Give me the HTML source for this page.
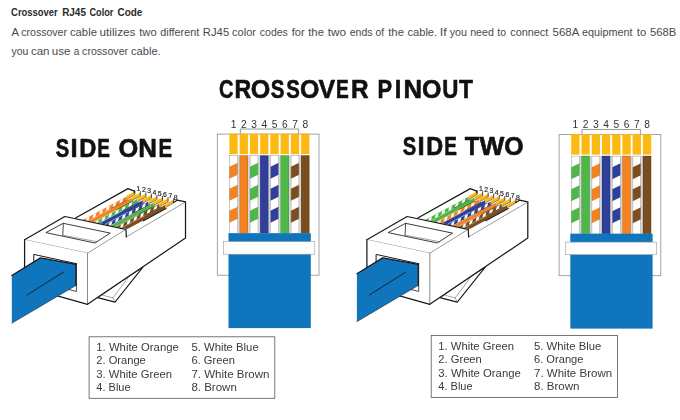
<!DOCTYPE html>
<html lang="en">
<head>
<meta charset="utf-8">
<title>Crossover RJ45 Color Code</title>
<style>
html,body{margin:0;padding:0;background:#fff;}
body{width:680px;height:420px;position:relative;overflow:hidden;font-family:"Liberation Sans",sans-serif;}
svg{display:block}
</style>
</head>
<body>
<svg width="680" height="70" viewBox="0 0 680 70" style="position:absolute;left:0;top:0" font-family="'Liberation Sans', sans-serif">
<text y="15.8" font-size="11.8" font-weight="bold" fill="#2a2a2a"><tspan x="11.08" textLength="46.61" lengthAdjust="spacingAndGlyphs">Crossover</tspan> <tspan x="62.15" textLength="23.77" lengthAdjust="spacingAndGlyphs">RJ45</tspan> <tspan x="89.41" textLength="23.97" lengthAdjust="spacingAndGlyphs">Color</tspan> <tspan x="117.5" textLength="24.84" lengthAdjust="spacingAndGlyphs">Code</tspan></text>
<text y="35.8" font-size="11.2" font-weight="normal" fill="#4a4a4a"><tspan x="11.57" textLength="6.91" lengthAdjust="spacingAndGlyphs">A</tspan> <tspan x="21.29" textLength="45.71" lengthAdjust="spacingAndGlyphs">crossover</tspan> <tspan x="69.96" textLength="26.95" lengthAdjust="spacingAndGlyphs">cable</tspan> <tspan x="99.52" textLength="35.93" lengthAdjust="spacingAndGlyphs">utilizes</tspan> <tspan x="139.16" textLength="17.5" lengthAdjust="spacingAndGlyphs">two</tspan> <tspan x="160.31" textLength="38.88" lengthAdjust="spacingAndGlyphs">different</tspan> <tspan x="202.87" textLength="26.29" lengthAdjust="spacingAndGlyphs">RJ45</tspan> <tspan x="232.01" textLength="24.04" lengthAdjust="spacingAndGlyphs">color</tspan> <tspan x="259.84" textLength="27.95" lengthAdjust="spacingAndGlyphs">codes</tspan> <tspan x="291.64" textLength="13.03" lengthAdjust="spacingAndGlyphs">for</tspan> <tspan x="308.21" textLength="15.79" lengthAdjust="spacingAndGlyphs">the</tspan> <tspan x="327.68" textLength="18.31" lengthAdjust="spacingAndGlyphs">two</tspan> <tspan x="349.76" textLength="22.87" lengthAdjust="spacingAndGlyphs">ends</tspan> <tspan x="375.61" textLength="8.61" lengthAdjust="spacingAndGlyphs">of</tspan> <tspan x="388.21" textLength="15.79" lengthAdjust="spacingAndGlyphs">the</tspan> <tspan x="407.47" textLength="29.66" lengthAdjust="spacingAndGlyphs">cable.</tspan> <tspan x="439.78" textLength="6.99" lengthAdjust="spacingAndGlyphs">If</tspan> <tspan x="449.74" textLength="17.25" lengthAdjust="spacingAndGlyphs">you</tspan> <tspan x="470.13" textLength="23.7" lengthAdjust="spacingAndGlyphs">need</tspan> <tspan x="497.32" textLength="8.79" lengthAdjust="spacingAndGlyphs">to</tspan> <tspan x="510.25" textLength="38.07" lengthAdjust="spacingAndGlyphs">connect</tspan> <tspan x="552.55" textLength="26.19" lengthAdjust="spacingAndGlyphs">568A</tspan> <tspan x="582.02" textLength="50.56" lengthAdjust="spacingAndGlyphs">equipment</tspan> <tspan x="636.78" textLength="9.38" lengthAdjust="spacingAndGlyphs">to</tspan> <tspan x="650" textLength="26.31" lengthAdjust="spacingAndGlyphs">568B</tspan></text>
<text y="54.9" font-size="11.2" font-weight="normal" fill="#4a4a4a"><tspan x="11.46" textLength="16.93" lengthAdjust="spacingAndGlyphs">you</tspan> <tspan x="30.91" textLength="18.62" lengthAdjust="spacingAndGlyphs">can</tspan> <tspan x="51.88" textLength="18.48" lengthAdjust="spacingAndGlyphs">use</tspan> <tspan x="73.71" textLength="5.53" lengthAdjust="spacingAndGlyphs">a</tspan> <tspan x="82.09" textLength="45.99" lengthAdjust="spacingAndGlyphs">crossover</tspan> <tspan x="130.98" textLength="29.74" lengthAdjust="spacingAndGlyphs">cable.</tspan></text>
</svg>
<svg width="680" height="350" viewBox="0 70 680 350" style="position:absolute;left:0;top:70px;will-change:transform" font-family="'Liberation Sans', sans-serif">
<text y="98.1" font-size="25.4" font-weight="bold" fill="#111" stroke="#111" stroke-width="0.6" stroke-linejoin="round"><tspan x="219.1" textLength="14.48" lengthAdjust="spacingAndGlyphs">C</tspan><tspan x="234.43" textLength="16.71" lengthAdjust="spacingAndGlyphs">R</tspan><tspan x="250.7" textLength="19.47" lengthAdjust="spacingAndGlyphs">O</tspan><tspan x="270.79" textLength="13.72" lengthAdjust="spacingAndGlyphs">S</tspan><tspan x="286.13" textLength="13.59" lengthAdjust="spacingAndGlyphs">S</tspan><tspan x="300.05" textLength="19.32" lengthAdjust="spacingAndGlyphs">O</tspan><tspan x="318.48" textLength="16.68" lengthAdjust="spacingAndGlyphs">V</tspan><tspan x="335.89" textLength="12.8" lengthAdjust="spacingAndGlyphs">E</tspan><tspan x="351.02" textLength="17.59" lengthAdjust="spacingAndGlyphs">R</tspan> <tspan x="377.48" textLength="14.57" lengthAdjust="spacingAndGlyphs">P</tspan><tspan x="394.84" textLength="6.56" lengthAdjust="spacingAndGlyphs">I</tspan><tspan x="403.4" textLength="18.56" lengthAdjust="spacingAndGlyphs">N</tspan><tspan x="422.02" textLength="19.41" lengthAdjust="spacingAndGlyphs">O</tspan><tspan x="442.17" textLength="16.15" lengthAdjust="spacingAndGlyphs">U</tspan><tspan x="459.07" textLength="13.94" lengthAdjust="spacingAndGlyphs">T</tspan></text>
<text y="156.6" font-size="25.4" font-weight="bold" fill="#111" stroke="#111" stroke-width="0.6" stroke-linejoin="round"><tspan x="55.63" textLength="13.46" lengthAdjust="spacingAndGlyphs">S</tspan><tspan x="70.54" textLength="7.14" lengthAdjust="spacingAndGlyphs">I</tspan><tspan x="79.37" textLength="17.12" lengthAdjust="spacingAndGlyphs">D</tspan><tspan x="97.29" textLength="12.65" lengthAdjust="spacingAndGlyphs">E</tspan> <tspan x="118.39" textLength="19.71" lengthAdjust="spacingAndGlyphs">O</tspan><tspan x="138.32" textLength="18.7" lengthAdjust="spacingAndGlyphs">N</tspan><tspan x="158.41" textLength="13.61" lengthAdjust="spacingAndGlyphs">E</tspan></text>
<text y="154.7" font-size="25.4" font-weight="bold" fill="#111" stroke="#111" stroke-width="0.6" stroke-linejoin="round"><tspan x="402.63" textLength="13.46" lengthAdjust="spacingAndGlyphs">S</tspan><tspan x="417.54" textLength="7.14" lengthAdjust="spacingAndGlyphs">I</tspan><tspan x="426.37" textLength="16.91" lengthAdjust="spacingAndGlyphs">D</tspan><tspan x="444.29" textLength="12.65" lengthAdjust="spacingAndGlyphs">E</tspan> <tspan x="464.67" textLength="14.39" lengthAdjust="spacingAndGlyphs">T</tspan><tspan x="479.43" textLength="24.83" lengthAdjust="spacingAndGlyphs">W</tspan><tspan x="504.15" textLength="19.3" lengthAdjust="spacingAndGlyphs">O</tspan></text>
<g transform="translate(0 0)" stroke-linejoin="round" stroke-linecap="round">
<polygon points="97.6,297.6 115,302.1 142.9,267.1 120,282" fill="#fff" stroke="#1a1a1a" stroke-width="1.1"/>
<polyline points="102.9,295.3 112.9,297.9 127.9,277.9" fill="none" stroke="#4a4a4a" stroke-width="0.5"/>
<line x1="112.9" y1="297.9" x2="115" y2="302.1" stroke="#4a4a4a" stroke-width="0.5"/>
<polygon points="87.5,253.2 126,229.3 126.3,236.9 185.5,202 185.5,238 87.5,304.3" fill="#fff" stroke="none"/>
<polyline points="185.5,202 185.5,238 87.5,304.3" fill="none" stroke="#1a1a1a" stroke-width="1.25"/>
<polygon points="75.5,218 128,188.6 134.4,191.2 176.7,199.6 185.5,202 126.3,236.7 126,228.8 70,217.5" fill="#fff" stroke="none"/>
<polygon points="126.2,196.64 126.2,200.49 87.99,220.93 82.77,219.88" fill="#F58220"/>
<polygon points="123.15,198.62 122.15,202.31 119.25,203.86 120.25,200.17" fill="#fff"/>
<polygon points="116.45,202.21 115.45,205.89 112.55,207.44 113.55,203.76" fill="#fff"/>
<polygon points="109.75,205.79 108.75,209.48 105.85,211.03 106.85,207.34" fill="#fff"/>
<polygon points="103.05,209.38 102.05,213.06 99.15,214.61 100.15,210.93" fill="#fff"/>
<polygon points="96.35,212.96 95.35,216.65 92.45,218.2 93.45,214.51" fill="#fff"/>
<polygon points="89.65,216.54 88.65,220.23 85.75,221.78 86.75,218.1" fill="#fff"/>
<polygon points="134.5,191.5 134.5,194.8 126.2,199.24 126.2,195.94" fill="#FDB913"/>
<line x1="111.2" y1="208.62" x2="127.7" y2="199.79" stroke="#1c1c1c" stroke-width="0.7" stroke-linecap="butt"/>
<line x1="134.8" y1="190.1" x2="134.8" y2="194.8" stroke="#1a1a1a" stroke-width="0.8" stroke-linecap="butt"/>
<line x1="126.2" y1="199.44" x2="134.5" y2="195" stroke="#1c1c1c" stroke-width="0.5" stroke-linecap="butt"/>
<polygon points="131.74,197.83 131.74,201.68 93.63,222.07 88.4,221.01" fill="#F58220"/>
<polygon points="140.04,192.69 140.04,195.99 131.74,200.43 131.74,197.13" fill="#FDB913"/>
<line x1="116.74" y1="209.8" x2="133.24" y2="200.97" stroke="#1c1c1c" stroke-width="0.7" stroke-linecap="butt"/>
<line x1="140.34" y1="191.29" x2="140.34" y2="195.99" stroke="#1a1a1a" stroke-width="0.8" stroke-linecap="butt"/>
<line x1="131.74" y1="200.63" x2="140.04" y2="196.19" stroke="#1c1c1c" stroke-width="0.5" stroke-linecap="butt"/>
<polygon points="137.28,199.01 137.28,202.86 99.26,223.2 94.03,222.15" fill="#4DB848"/>
<polygon points="132.23,202.06 131.23,205.75 128.33,207.3 129.33,203.62" fill="#fff"/>
<polygon points="125.53,205.65 124.53,209.33 121.63,210.89 122.63,207.2" fill="#fff"/>
<polygon points="118.83,209.23 117.83,212.92 114.93,214.47 115.93,210.78" fill="#fff"/>
<polygon points="112.13,212.82 111.13,216.5 108.23,218.05 109.23,214.37" fill="#fff"/>
<polygon points="105.43,216.4 104.43,220.09 101.53,221.64 102.53,217.95" fill="#fff"/>
<polygon points="98.73,219.99 97.73,223.67 94.83,225.22 95.83,221.54" fill="#fff"/>
<polygon points="145.58,193.87 145.58,197.17 137.28,201.61 137.28,198.31" fill="#FDB913"/>
<line x1="122.28" y1="210.99" x2="138.78" y2="202.16" stroke="#1c1c1c" stroke-width="0.7" stroke-linecap="butt"/>
<line x1="145.88" y1="192.47" x2="145.88" y2="197.17" stroke="#1a1a1a" stroke-width="0.8" stroke-linecap="butt"/>
<line x1="137.28" y1="201.81" x2="145.58" y2="197.37" stroke="#1c1c1c" stroke-width="0.5" stroke-linecap="butt"/>
<polygon points="142.82,200.2 142.82,204.05 104.89,224.34 99.67,223.29" fill="#2E409A"/>
<polygon points="151.12,195.06 151.12,198.36 142.82,202.8 142.82,199.5" fill="#FDB913"/>
<line x1="127.82" y1="212.17" x2="144.32" y2="203.35" stroke="#1c1c1c" stroke-width="0.7" stroke-linecap="butt"/>
<line x1="151.42" y1="193.66" x2="151.42" y2="198.36" stroke="#1a1a1a" stroke-width="0.8" stroke-linecap="butt"/>
<line x1="142.82" y1="203" x2="151.12" y2="198.56" stroke="#1c1c1c" stroke-width="0.5" stroke-linecap="butt"/>
<polygon points="148.36,201.38 148.36,205.23 110.52,225.48 105.3,224.42" fill="#2E409A"/>
<polygon points="145.91,203.05 144.91,206.73 141.81,208.39 142.81,204.7" fill="#fff"/>
<polygon points="139.21,206.63 138.21,210.32 135.11,211.97 136.11,208.29" fill="#fff"/>
<polygon points="132.51,210.21 131.51,213.9 128.41,215.56 129.41,211.87" fill="#fff"/>
<polygon points="125.81,213.8 124.81,217.48 121.71,219.14 122.71,215.46" fill="#fff"/>
<polygon points="119.11,217.38 118.11,221.07 115.01,222.73 116.01,219.04" fill="#fff"/>
<polygon points="112.41,220.97 111.41,224.65 108.31,226.31 109.31,222.63" fill="#fff"/>
<polygon points="156.66,196.24 156.66,199.54 148.36,203.98 148.36,200.68" fill="#FDB913"/>
<line x1="133.36" y1="213.36" x2="149.86" y2="204.53" stroke="#1c1c1c" stroke-width="0.7" stroke-linecap="butt"/>
<line x1="156.96" y1="194.84" x2="156.96" y2="199.54" stroke="#1a1a1a" stroke-width="0.8" stroke-linecap="butt"/>
<line x1="148.36" y1="204.18" x2="156.66" y2="199.74" stroke="#1c1c1c" stroke-width="0.5" stroke-linecap="butt"/>
<polygon points="153.9,202.57 153.9,206.42 116.16,226.61 110.93,225.56" fill="#4DB848"/>
<polygon points="162.2,197.43 162.2,200.73 153.9,205.17 153.9,201.87" fill="#FDB913"/>
<line x1="138.9" y1="214.55" x2="155.4" y2="205.72" stroke="#1c1c1c" stroke-width="0.7" stroke-linecap="butt"/>
<line x1="162.5" y1="196.03" x2="162.5" y2="200.73" stroke="#1a1a1a" stroke-width="0.8" stroke-linecap="butt"/>
<line x1="153.9" y1="205.37" x2="162.2" y2="200.93" stroke="#1c1c1c" stroke-width="0.5" stroke-linecap="butt"/>
<polygon points="159.44,203.76 159.44,207.61 121.79,227.75 116.56,226.7" fill="#7A4E1E"/>
<polygon points="157.44,205.18 156.44,208.86 153.44,210.47 154.44,206.78" fill="#fff"/>
<polygon points="150.74,208.76 149.74,212.45 146.74,214.05 147.74,210.37" fill="#fff"/>
<polygon points="144.04,212.35 143.04,216.03 140.04,217.64 141.04,213.95" fill="#fff"/>
<polygon points="137.34,215.93 136.34,219.62 133.34,221.22 134.34,217.54" fill="#fff"/>
<polygon points="130.64,219.52 129.64,223.2 126.64,224.81 127.64,221.12" fill="#fff"/>
<polygon points="123.94,223.1 122.94,226.78 119.94,228.39 120.94,224.7" fill="#fff"/>
<polygon points="167.74,198.62 167.74,201.92 159.44,206.36 159.44,203.06" fill="#FDB913"/>
<line x1="144.44" y1="215.73" x2="160.94" y2="206.9" stroke="#1c1c1c" stroke-width="0.7" stroke-linecap="butt"/>
<line x1="168.04" y1="197.22" x2="168.04" y2="201.92" stroke="#1a1a1a" stroke-width="0.8" stroke-linecap="butt"/>
<line x1="159.44" y1="206.56" x2="167.74" y2="202.12" stroke="#1c1c1c" stroke-width="0.5" stroke-linecap="butt"/>
<polygon points="164.98,204.94 164.98,208.79 127.42,228.89 122.2,227.83" fill="#7A4E1E"/>
<polygon points="173.28,199.8 173.28,203.1 164.98,207.54 164.98,204.24" fill="#FDB913"/>
<line x1="142.98" y1="220.91" x2="166.48" y2="208.34" stroke="#1c1c1c" stroke-width="1.1" stroke-linecap="butt"/>
<line x1="173.58" y1="198.4" x2="173.58" y2="203.1" stroke="#1a1a1a" stroke-width="0.8" stroke-linecap="butt"/>
<line x1="164.98" y1="207.74" x2="173.28" y2="203.3" stroke="#1c1c1c" stroke-width="0.5" stroke-linecap="butt"/>
<text x="138.5" y="190.6" text-anchor="middle" font-size="6.9" fill="#2a2a2a" stroke="#2a2a2a" stroke-width="0.2">1</text>
<text x="143.8" y="191.9" text-anchor="middle" font-size="6.9" fill="#2a2a2a" stroke="#2a2a2a" stroke-width="0.2">2</text>
<text x="149.1" y="193.2" text-anchor="middle" font-size="6.9" fill="#2a2a2a" stroke="#2a2a2a" stroke-width="0.2">3</text>
<text x="154.4" y="194.5" text-anchor="middle" font-size="6.9" fill="#2a2a2a" stroke="#2a2a2a" stroke-width="0.2">4</text>
<text x="159.7" y="195.8" text-anchor="middle" font-size="6.9" fill="#2a2a2a" stroke="#2a2a2a" stroke-width="0.2">5</text>
<text x="165" y="197.1" text-anchor="middle" font-size="6.9" fill="#2a2a2a" stroke="#2a2a2a" stroke-width="0.2">6</text>
<text x="170.3" y="198.4" text-anchor="middle" font-size="6.9" fill="#2a2a2a" stroke="#2a2a2a" stroke-width="0.2">7</text>
<text x="175.6" y="199.7" text-anchor="middle" font-size="6.9" fill="#2a2a2a" stroke="#2a2a2a" stroke-width="0.2">8</text>
<polyline points="75.5,218 128,188.6 134.4,191.2 134.4,192.6" fill="none" stroke="#1a1a1a" stroke-width="1.3"/>
<polyline points="173.4,202.5 177.3,200.2 185.4,201.9" fill="none" stroke="#1a1a1a" stroke-width="1.3"/>
<line x1="126.3" y1="236.9" x2="185.5" y2="202" stroke="#4a4a4a" stroke-width="0.55"/>
<polygon points="24.6,239.7 64.8,216.5 126,229.3 87.5,253.2" fill="#fff" stroke="none"/>
<polyline points="24.6,239.7 64.8,216.5 126,229.3 126.3,236.9" fill="none" stroke="#1a1a1a" stroke-width="1.25"/>
<polyline points="24.6,239.7 87.5,253.2 126,229.3" fill="none" stroke="#4a4a4a" stroke-width="0.55"/>
<polygon points="63.6,223.4 110.2,233.1 95,243 46.3,232.7" fill="#fff" stroke="#1a1a1a" stroke-width="0.85"/>
<line x1="63.3" y1="223.6" x2="62.8" y2="235.2" stroke="#1a1a1a" stroke-width="0.8"/>
<line x1="62.8" y1="235.2" x2="97.2" y2="241.7" stroke="#4a4a4a" stroke-width="0.5"/>
<polygon points="24.6,239.7 87.5,253.2 87.5,304.3 24.6,286" fill="#fff" stroke="none"/>
<line x1="24.6" y1="239.7" x2="24.6" y2="286" stroke="#1a1a1a" stroke-width="1.25"/>
<line x1="87.5" y1="253.2" x2="87.5" y2="304.3" stroke="#4a4a4a" stroke-width="0.65"/>
<line x1="24.6" y1="286.6" x2="87.5" y2="304.3" stroke="#1a1a1a" stroke-width="1.25"/>
<polygon points="33.8,254.4 76.4,263.7 76.4,291.4 33.8,281" fill="#fff" stroke="none"/>
<polyline points="33.8,281 33.8,254.4 76.4,263.7" fill="none" stroke="#1a1a1a" stroke-width="1.0"/>
<polyline points="76.4,263.7 76.4,291.4 33.8,281" fill="none" stroke="#1a1a1a" stroke-width="0.8"/>
<polygon points="40.4,257.9 76,264.2 76,285.4 11.8,323.31 11.8,275.5" fill="#0F75BC" stroke="none"/>
<polyline points="11.8,275.5 40.4,257.9 76,264.3 76,285.4" fill="none" stroke="#1a1a1a" stroke-width="1.25"/>
<line x1="63.6" y1="272" x2="27" y2="295" stroke="#1a1a1a" stroke-width="0.9"/>
<line x1="76" y1="285.4" x2="11.8" y2="323.31" stroke="#1a1a1a" stroke-width="0.5"/>
</g>
<g transform="translate(342.3 0)" stroke-linejoin="round" stroke-linecap="round">
<polygon points="97.6,297.6 115,302.1 142.9,267.1 120,282" fill="#fff" stroke="#1a1a1a" stroke-width="1.1"/>
<polyline points="102.9,295.3 112.9,297.9 127.9,277.9" fill="none" stroke="#4a4a4a" stroke-width="0.5"/>
<line x1="112.9" y1="297.9" x2="115" y2="302.1" stroke="#4a4a4a" stroke-width="0.5"/>
<polygon points="87.5,253.2 126,229.3 126.3,236.9 185.5,202 185.5,238 87.5,304.3" fill="#fff" stroke="none"/>
<polyline points="185.5,202 185.5,238 87.5,304.3" fill="none" stroke="#1a1a1a" stroke-width="1.25"/>
<polygon points="75.5,218 128,188.6 134.4,191.2 176.7,199.6 185.5,202 126.3,236.7 126,228.8 70,217.5" fill="#fff" stroke="none"/>
<polygon points="126.2,196.64 126.2,200.49 87.99,220.93 82.77,219.88" fill="#4DB848"/>
<polygon points="123.15,198.62 122.15,202.31 119.25,203.86 120.25,200.17" fill="#fff"/>
<polygon points="116.45,202.21 115.45,205.89 112.55,207.44 113.55,203.76" fill="#fff"/>
<polygon points="109.75,205.79 108.75,209.48 105.85,211.03 106.85,207.34" fill="#fff"/>
<polygon points="103.05,209.38 102.05,213.06 99.15,214.61 100.15,210.93" fill="#fff"/>
<polygon points="96.35,212.96 95.35,216.65 92.45,218.2 93.45,214.51" fill="#fff"/>
<polygon points="89.65,216.54 88.65,220.23 85.75,221.78 86.75,218.1" fill="#fff"/>
<polygon points="134.5,191.5 134.5,194.8 126.2,199.24 126.2,195.94" fill="#FDB913"/>
<line x1="111.2" y1="208.62" x2="127.7" y2="199.79" stroke="#1c1c1c" stroke-width="0.7" stroke-linecap="butt"/>
<line x1="134.8" y1="190.1" x2="134.8" y2="194.8" stroke="#1a1a1a" stroke-width="0.8" stroke-linecap="butt"/>
<line x1="126.2" y1="199.44" x2="134.5" y2="195" stroke="#1c1c1c" stroke-width="0.5" stroke-linecap="butt"/>
<polygon points="131.74,197.83 131.74,201.68 93.63,222.07 88.4,221.01" fill="#4DB848"/>
<polygon points="140.04,192.69 140.04,195.99 131.74,200.43 131.74,197.13" fill="#FDB913"/>
<line x1="116.74" y1="209.8" x2="133.24" y2="200.97" stroke="#1c1c1c" stroke-width="0.7" stroke-linecap="butt"/>
<line x1="140.34" y1="191.29" x2="140.34" y2="195.99" stroke="#1a1a1a" stroke-width="0.8" stroke-linecap="butt"/>
<line x1="131.74" y1="200.63" x2="140.04" y2="196.19" stroke="#1c1c1c" stroke-width="0.5" stroke-linecap="butt"/>
<polygon points="137.28,199.01 137.28,202.86 99.26,223.2 94.03,222.15" fill="#F58220"/>
<polygon points="132.23,202.06 131.23,205.75 128.33,207.3 129.33,203.62" fill="#fff"/>
<polygon points="125.53,205.65 124.53,209.33 121.63,210.89 122.63,207.2" fill="#fff"/>
<polygon points="118.83,209.23 117.83,212.92 114.93,214.47 115.93,210.78" fill="#fff"/>
<polygon points="112.13,212.82 111.13,216.5 108.23,218.05 109.23,214.37" fill="#fff"/>
<polygon points="105.43,216.4 104.43,220.09 101.53,221.64 102.53,217.95" fill="#fff"/>
<polygon points="98.73,219.99 97.73,223.67 94.83,225.22 95.83,221.54" fill="#fff"/>
<polygon points="145.58,193.87 145.58,197.17 137.28,201.61 137.28,198.31" fill="#FDB913"/>
<line x1="122.28" y1="210.99" x2="138.78" y2="202.16" stroke="#1c1c1c" stroke-width="0.7" stroke-linecap="butt"/>
<line x1="145.88" y1="192.47" x2="145.88" y2="197.17" stroke="#1a1a1a" stroke-width="0.8" stroke-linecap="butt"/>
<line x1="137.28" y1="201.81" x2="145.58" y2="197.37" stroke="#1c1c1c" stroke-width="0.5" stroke-linecap="butt"/>
<polygon points="142.82,200.2 142.82,204.05 104.89,224.34 99.67,223.29" fill="#2E409A"/>
<polygon points="151.12,195.06 151.12,198.36 142.82,202.8 142.82,199.5" fill="#FDB913"/>
<line x1="127.82" y1="212.17" x2="144.32" y2="203.35" stroke="#1c1c1c" stroke-width="0.7" stroke-linecap="butt"/>
<line x1="151.42" y1="193.66" x2="151.42" y2="198.36" stroke="#1a1a1a" stroke-width="0.8" stroke-linecap="butt"/>
<line x1="142.82" y1="203" x2="151.12" y2="198.56" stroke="#1c1c1c" stroke-width="0.5" stroke-linecap="butt"/>
<polygon points="148.36,201.38 148.36,205.23 110.52,225.48 105.3,224.42" fill="#2E409A"/>
<polygon points="145.91,203.05 144.91,206.73 141.81,208.39 142.81,204.7" fill="#fff"/>
<polygon points="139.21,206.63 138.21,210.32 135.11,211.97 136.11,208.29" fill="#fff"/>
<polygon points="132.51,210.21 131.51,213.9 128.41,215.56 129.41,211.87" fill="#fff"/>
<polygon points="125.81,213.8 124.81,217.48 121.71,219.14 122.71,215.46" fill="#fff"/>
<polygon points="119.11,217.38 118.11,221.07 115.01,222.73 116.01,219.04" fill="#fff"/>
<polygon points="112.41,220.97 111.41,224.65 108.31,226.31 109.31,222.63" fill="#fff"/>
<polygon points="156.66,196.24 156.66,199.54 148.36,203.98 148.36,200.68" fill="#FDB913"/>
<line x1="133.36" y1="213.36" x2="149.86" y2="204.53" stroke="#1c1c1c" stroke-width="0.7" stroke-linecap="butt"/>
<line x1="156.96" y1="194.84" x2="156.96" y2="199.54" stroke="#1a1a1a" stroke-width="0.8" stroke-linecap="butt"/>
<line x1="148.36" y1="204.18" x2="156.66" y2="199.74" stroke="#1c1c1c" stroke-width="0.5" stroke-linecap="butt"/>
<polygon points="153.9,202.57 153.9,206.42 116.16,226.61 110.93,225.56" fill="#F58220"/>
<polygon points="162.2,197.43 162.2,200.73 153.9,205.17 153.9,201.87" fill="#FDB913"/>
<line x1="138.9" y1="214.55" x2="155.4" y2="205.72" stroke="#1c1c1c" stroke-width="0.7" stroke-linecap="butt"/>
<line x1="162.5" y1="196.03" x2="162.5" y2="200.73" stroke="#1a1a1a" stroke-width="0.8" stroke-linecap="butt"/>
<line x1="153.9" y1="205.37" x2="162.2" y2="200.93" stroke="#1c1c1c" stroke-width="0.5" stroke-linecap="butt"/>
<polygon points="159.44,203.76 159.44,207.61 121.79,227.75 116.56,226.7" fill="#7A4E1E"/>
<polygon points="157.44,205.18 156.44,208.86 153.44,210.47 154.44,206.78" fill="#fff"/>
<polygon points="150.74,208.76 149.74,212.45 146.74,214.05 147.74,210.37" fill="#fff"/>
<polygon points="144.04,212.35 143.04,216.03 140.04,217.64 141.04,213.95" fill="#fff"/>
<polygon points="137.34,215.93 136.34,219.62 133.34,221.22 134.34,217.54" fill="#fff"/>
<polygon points="130.64,219.52 129.64,223.2 126.64,224.81 127.64,221.12" fill="#fff"/>
<polygon points="123.94,223.1 122.94,226.78 119.94,228.39 120.94,224.7" fill="#fff"/>
<polygon points="167.74,198.62 167.74,201.92 159.44,206.36 159.44,203.06" fill="#FDB913"/>
<line x1="144.44" y1="215.73" x2="160.94" y2="206.9" stroke="#1c1c1c" stroke-width="0.7" stroke-linecap="butt"/>
<line x1="168.04" y1="197.22" x2="168.04" y2="201.92" stroke="#1a1a1a" stroke-width="0.8" stroke-linecap="butt"/>
<line x1="159.44" y1="206.56" x2="167.74" y2="202.12" stroke="#1c1c1c" stroke-width="0.5" stroke-linecap="butt"/>
<polygon points="164.98,204.94 164.98,208.79 127.42,228.89 122.2,227.83" fill="#7A4E1E"/>
<polygon points="173.28,199.8 173.28,203.1 164.98,207.54 164.98,204.24" fill="#FDB913"/>
<line x1="142.98" y1="220.91" x2="166.48" y2="208.34" stroke="#1c1c1c" stroke-width="1.1" stroke-linecap="butt"/>
<line x1="173.58" y1="198.4" x2="173.58" y2="203.1" stroke="#1a1a1a" stroke-width="0.8" stroke-linecap="butt"/>
<line x1="164.98" y1="207.74" x2="173.28" y2="203.3" stroke="#1c1c1c" stroke-width="0.5" stroke-linecap="butt"/>
<text x="138.5" y="190.6" text-anchor="middle" font-size="6.9" fill="#2a2a2a" stroke="#2a2a2a" stroke-width="0.2">1</text>
<text x="143.8" y="191.9" text-anchor="middle" font-size="6.9" fill="#2a2a2a" stroke="#2a2a2a" stroke-width="0.2">2</text>
<text x="149.1" y="193.2" text-anchor="middle" font-size="6.9" fill="#2a2a2a" stroke="#2a2a2a" stroke-width="0.2">3</text>
<text x="154.4" y="194.5" text-anchor="middle" font-size="6.9" fill="#2a2a2a" stroke="#2a2a2a" stroke-width="0.2">4</text>
<text x="159.7" y="195.8" text-anchor="middle" font-size="6.9" fill="#2a2a2a" stroke="#2a2a2a" stroke-width="0.2">5</text>
<text x="165" y="197.1" text-anchor="middle" font-size="6.9" fill="#2a2a2a" stroke="#2a2a2a" stroke-width="0.2">6</text>
<text x="170.3" y="198.4" text-anchor="middle" font-size="6.9" fill="#2a2a2a" stroke="#2a2a2a" stroke-width="0.2">7</text>
<text x="175.6" y="199.7" text-anchor="middle" font-size="6.9" fill="#2a2a2a" stroke="#2a2a2a" stroke-width="0.2">8</text>
<polyline points="75.5,218 128,188.6 134.4,191.2 134.4,192.6" fill="none" stroke="#1a1a1a" stroke-width="1.3"/>
<polyline points="173.4,202.5 177.3,200.2 185.4,201.9" fill="none" stroke="#1a1a1a" stroke-width="1.3"/>
<line x1="126.3" y1="236.9" x2="185.5" y2="202" stroke="#4a4a4a" stroke-width="0.55"/>
<polygon points="24.6,239.7 64.8,216.5 126,229.3 87.5,253.2" fill="#fff" stroke="none"/>
<polyline points="24.6,239.7 64.8,216.5 126,229.3 126.3,236.9" fill="none" stroke="#1a1a1a" stroke-width="1.25"/>
<polyline points="24.6,239.7 87.5,253.2 126,229.3" fill="none" stroke="#4a4a4a" stroke-width="0.55"/>
<polygon points="63.6,223.4 110.2,233.1 95,243 46.3,232.7" fill="#fff" stroke="#1a1a1a" stroke-width="0.85"/>
<line x1="63.3" y1="223.6" x2="62.8" y2="235.2" stroke="#1a1a1a" stroke-width="0.8"/>
<line x1="62.8" y1="235.2" x2="97.2" y2="241.7" stroke="#4a4a4a" stroke-width="0.5"/>
<polygon points="24.6,239.7 87.5,253.2 87.5,304.3 24.6,286" fill="#fff" stroke="none"/>
<line x1="24.6" y1="239.7" x2="24.6" y2="286" stroke="#1a1a1a" stroke-width="1.25"/>
<line x1="87.5" y1="253.2" x2="87.5" y2="304.3" stroke="#4a4a4a" stroke-width="0.65"/>
<line x1="24.6" y1="286.6" x2="87.5" y2="304.3" stroke="#1a1a1a" stroke-width="1.25"/>
<polygon points="33.8,254.4 76.4,263.7 76.4,291.4 33.8,281" fill="#fff" stroke="none"/>
<polyline points="33.8,281 33.8,254.4 76.4,263.7" fill="none" stroke="#1a1a1a" stroke-width="1.0"/>
<polyline points="76.4,263.7 76.4,291.4 33.8,281" fill="none" stroke="#1a1a1a" stroke-width="0.8"/>
<polygon points="40.4,257.9 76,264.2 76,285.4 14.6,321.66 14.6,273.78" fill="#0F75BC" stroke="none"/>
<polyline points="14.6,273.78 40.4,257.9 76,264.3 76,285.4" fill="none" stroke="#1a1a1a" stroke-width="1.25"/>
<line x1="63.6" y1="272" x2="27" y2="295" stroke="#1a1a1a" stroke-width="0.9"/>
<line x1="76" y1="285.4" x2="14.6" y2="321.66" stroke="#1a1a1a" stroke-width="0.5"/>
</g>
<g transform="translate(0 0)">
<rect x="217.3" y="134.1" width="101.7" height="141.1" fill="#fff" stroke="#8c8c8c" stroke-width="0.8"/>
<path d="M240.3 134 V129 H298.6 V134" fill="none" stroke="#555" stroke-width="0.6"/>
<rect x="229.4" y="133.6" width="8.3" height="20.5" fill="#FDB913"/>
<rect x="237.7" y="155.4" width="1.94" height="78" fill="#d6d6d6"/>
<rect x="229.4" y="155.4" width="8.3" height="78" fill="#fff"/>
<polygon points="229.4,166.75 237.7,162.85 237.7,174.85 229.4,178.75" fill="#F58220"/>
<polygon points="229.4,188.7 237.7,184.8 237.7,196.8 229.4,200.7" fill="#F58220"/>
<polygon points="229.4,210.65 237.7,206.75 237.7,218.75 229.4,222.65" fill="#F58220"/>
<rect x="229.6" y="155.6" width="7.9" height="78" fill="none" stroke="#8f8f8f" stroke-width="0.5"/>
<rect x="239.64" y="133.6" width="8.3" height="20.5" fill="#FDB913"/>
<rect x="247.94" y="155.4" width="1.94" height="78" fill="#d6d6d6"/>
<rect x="239.64" y="155.4" width="8.3" height="78" fill="#F58220"/>
<rect x="239.84" y="155.6" width="7.9" height="78" fill="none" stroke="rgba(0,0,0,0.28)" stroke-width="0.5"/>
<rect x="249.88" y="133.6" width="8.3" height="20.5" fill="#FDB913"/>
<rect x="258.18" y="155.4" width="1.94" height="78" fill="#d6d6d6"/>
<rect x="249.88" y="155.4" width="8.3" height="78" fill="#fff"/>
<polygon points="249.88,166.75 258.18,162.85 258.18,174.85 249.88,178.75" fill="#4DB848"/>
<polygon points="249.88,188.7 258.18,184.8 258.18,196.8 249.88,200.7" fill="#4DB848"/>
<polygon points="249.88,210.65 258.18,206.75 258.18,218.75 249.88,222.65" fill="#4DB848"/>
<rect x="250.08" y="155.6" width="7.9" height="78" fill="none" stroke="#8f8f8f" stroke-width="0.5"/>
<rect x="260.12" y="133.6" width="8.3" height="20.5" fill="#FDB913"/>
<rect x="268.42" y="155.4" width="1.94" height="78" fill="#d6d6d6"/>
<rect x="260.12" y="155.4" width="8.3" height="78" fill="#2E409A"/>
<rect x="260.32" y="155.6" width="7.9" height="78" fill="none" stroke="rgba(0,0,0,0.28)" stroke-width="0.5"/>
<rect x="270.36" y="133.6" width="8.3" height="20.5" fill="#FDB913"/>
<rect x="278.66" y="155.4" width="1.94" height="78" fill="#d6d6d6"/>
<rect x="270.36" y="155.4" width="8.3" height="78" fill="#fff"/>
<polygon points="270.36,166.75 278.66,162.85 278.66,174.85 270.36,178.75" fill="#2E409A"/>
<polygon points="270.36,188.7 278.66,184.8 278.66,196.8 270.36,200.7" fill="#2E409A"/>
<polygon points="270.36,210.65 278.66,206.75 278.66,218.75 270.36,222.65" fill="#2E409A"/>
<rect x="270.56" y="155.6" width="7.9" height="78" fill="none" stroke="#8f8f8f" stroke-width="0.5"/>
<rect x="280.6" y="133.6" width="8.3" height="20.5" fill="#FDB913"/>
<rect x="288.9" y="155.4" width="1.94" height="78" fill="#d6d6d6"/>
<rect x="280.6" y="155.4" width="8.3" height="78" fill="#4DB848"/>
<rect x="280.8" y="155.6" width="7.9" height="78" fill="none" stroke="rgba(0,0,0,0.28)" stroke-width="0.5"/>
<rect x="290.84" y="133.6" width="8.3" height="20.5" fill="#FDB913"/>
<rect x="299.14" y="155.4" width="1.94" height="78" fill="#d6d6d6"/>
<rect x="290.84" y="155.4" width="8.3" height="78" fill="#fff"/>
<polygon points="290.84,166.75 299.14,162.85 299.14,174.85 290.84,178.75" fill="#7A4E1E"/>
<polygon points="290.84,188.7 299.14,184.8 299.14,196.8 290.84,200.7" fill="#7A4E1E"/>
<polygon points="290.84,210.65 299.14,206.75 299.14,218.75 290.84,222.65" fill="#7A4E1E"/>
<rect x="291.04" y="155.6" width="7.9" height="78" fill="none" stroke="#8f8f8f" stroke-width="0.5"/>
<rect x="301.08" y="133.6" width="8.3" height="20.5" fill="#FDB913"/>
<rect x="301.08" y="155.4" width="8.3" height="78" fill="#7A4E1E"/>
<rect x="301.28" y="155.6" width="7.9" height="78" fill="none" stroke="rgba(0,0,0,0.28)" stroke-width="0.5"/>
<text x="233.55" y="127.9" text-anchor="middle" font-size="10.2" fill="#333">1</text>
<text x="243.79" y="127.9" text-anchor="middle" font-size="10.2" fill="#333">2</text>
<text x="254.03" y="127.9" text-anchor="middle" font-size="10.2" fill="#333">3</text>
<text x="264.27" y="127.9" text-anchor="middle" font-size="10.2" fill="#333">4</text>
<text x="274.51" y="127.9" text-anchor="middle" font-size="10.2" fill="#333">5</text>
<text x="284.75" y="127.9" text-anchor="middle" font-size="10.2" fill="#333">6</text>
<text x="294.99" y="127.9" text-anchor="middle" font-size="10.2" fill="#333">7</text>
<text x="305.23" y="127.9" text-anchor="middle" font-size="10.2" fill="#333">8</text>
<rect x="228.5" y="233.2" width="82.3" height="94.9" fill="#0F75BC"/>
<rect x="223.6" y="241.6" width="91.2" height="12.6" fill="#fff" stroke="#9a9a9a" stroke-width="0.6"/>
</g>
<g transform="translate(341.8 0.5)">
<rect x="217.3" y="134.1" width="101.7" height="141.1" fill="#fff" stroke="#8c8c8c" stroke-width="0.8"/>
<path d="M240.3 134 V129 H298.6 V134" fill="none" stroke="#555" stroke-width="0.6"/>
<rect x="229.4" y="133.6" width="8.3" height="20.5" fill="#FDB913"/>
<rect x="237.7" y="155.4" width="1.94" height="78" fill="#d6d6d6"/>
<rect x="229.4" y="155.4" width="8.3" height="78" fill="#fff"/>
<polygon points="229.4,166.75 237.7,162.85 237.7,174.85 229.4,178.75" fill="#4DB848"/>
<polygon points="229.4,188.7 237.7,184.8 237.7,196.8 229.4,200.7" fill="#4DB848"/>
<polygon points="229.4,210.65 237.7,206.75 237.7,218.75 229.4,222.65" fill="#4DB848"/>
<rect x="229.6" y="155.6" width="7.9" height="78" fill="none" stroke="#8f8f8f" stroke-width="0.5"/>
<rect x="239.64" y="133.6" width="8.3" height="20.5" fill="#FDB913"/>
<rect x="247.94" y="155.4" width="1.94" height="78" fill="#d6d6d6"/>
<rect x="239.64" y="155.4" width="8.3" height="78" fill="#4DB848"/>
<rect x="239.84" y="155.6" width="7.9" height="78" fill="none" stroke="rgba(0,0,0,0.28)" stroke-width="0.5"/>
<rect x="249.88" y="133.6" width="8.3" height="20.5" fill="#FDB913"/>
<rect x="258.18" y="155.4" width="1.94" height="78" fill="#d6d6d6"/>
<rect x="249.88" y="155.4" width="8.3" height="78" fill="#fff"/>
<polygon points="249.88,166.75 258.18,162.85 258.18,174.85 249.88,178.75" fill="#F58220"/>
<polygon points="249.88,188.7 258.18,184.8 258.18,196.8 249.88,200.7" fill="#F58220"/>
<polygon points="249.88,210.65 258.18,206.75 258.18,218.75 249.88,222.65" fill="#F58220"/>
<rect x="250.08" y="155.6" width="7.9" height="78" fill="none" stroke="#8f8f8f" stroke-width="0.5"/>
<rect x="260.12" y="133.6" width="8.3" height="20.5" fill="#FDB913"/>
<rect x="268.42" y="155.4" width="1.94" height="78" fill="#d6d6d6"/>
<rect x="260.12" y="155.4" width="8.3" height="78" fill="#2E409A"/>
<rect x="260.32" y="155.6" width="7.9" height="78" fill="none" stroke="rgba(0,0,0,0.28)" stroke-width="0.5"/>
<rect x="270.36" y="133.6" width="8.3" height="20.5" fill="#FDB913"/>
<rect x="278.66" y="155.4" width="1.94" height="78" fill="#d6d6d6"/>
<rect x="270.36" y="155.4" width="8.3" height="78" fill="#fff"/>
<polygon points="270.36,166.75 278.66,162.85 278.66,174.85 270.36,178.75" fill="#2E409A"/>
<polygon points="270.36,188.7 278.66,184.8 278.66,196.8 270.36,200.7" fill="#2E409A"/>
<polygon points="270.36,210.65 278.66,206.75 278.66,218.75 270.36,222.65" fill="#2E409A"/>
<rect x="270.56" y="155.6" width="7.9" height="78" fill="none" stroke="#8f8f8f" stroke-width="0.5"/>
<rect x="280.6" y="133.6" width="8.3" height="20.5" fill="#FDB913"/>
<rect x="288.9" y="155.4" width="1.94" height="78" fill="#d6d6d6"/>
<rect x="280.6" y="155.4" width="8.3" height="78" fill="#F58220"/>
<rect x="280.8" y="155.6" width="7.9" height="78" fill="none" stroke="rgba(0,0,0,0.28)" stroke-width="0.5"/>
<rect x="290.84" y="133.6" width="8.3" height="20.5" fill="#FDB913"/>
<rect x="299.14" y="155.4" width="1.94" height="78" fill="#d6d6d6"/>
<rect x="290.84" y="155.4" width="8.3" height="78" fill="#fff"/>
<polygon points="290.84,166.75 299.14,162.85 299.14,174.85 290.84,178.75" fill="#7A4E1E"/>
<polygon points="290.84,188.7 299.14,184.8 299.14,196.8 290.84,200.7" fill="#7A4E1E"/>
<polygon points="290.84,210.65 299.14,206.75 299.14,218.75 290.84,222.65" fill="#7A4E1E"/>
<rect x="291.04" y="155.6" width="7.9" height="78" fill="none" stroke="#8f8f8f" stroke-width="0.5"/>
<rect x="301.08" y="133.6" width="8.3" height="20.5" fill="#FDB913"/>
<rect x="301.08" y="155.4" width="8.3" height="78" fill="#7A4E1E"/>
<rect x="301.28" y="155.6" width="7.9" height="78" fill="none" stroke="rgba(0,0,0,0.28)" stroke-width="0.5"/>
<text x="233.55" y="127.9" text-anchor="middle" font-size="10.2" fill="#333">1</text>
<text x="243.79" y="127.9" text-anchor="middle" font-size="10.2" fill="#333">2</text>
<text x="254.03" y="127.9" text-anchor="middle" font-size="10.2" fill="#333">3</text>
<text x="264.27" y="127.9" text-anchor="middle" font-size="10.2" fill="#333">4</text>
<text x="274.51" y="127.9" text-anchor="middle" font-size="10.2" fill="#333">5</text>
<text x="284.75" y="127.9" text-anchor="middle" font-size="10.2" fill="#333">6</text>
<text x="294.99" y="127.9" text-anchor="middle" font-size="10.2" fill="#333">7</text>
<text x="305.23" y="127.9" text-anchor="middle" font-size="10.2" fill="#333">8</text>
<rect x="228.5" y="233.2" width="82.3" height="94.9" fill="#0F75BC"/>
<rect x="223.6" y="241.6" width="91.2" height="12.6" fill="#fff" stroke="#9a9a9a" stroke-width="0.6"/>
</g>
<rect x="89.1" y="336.8" width="185.7" height="61.5" fill="#fff" stroke="#555" stroke-width="0.8"/>
<text x="96.3" y="351.3" font-size="11.1" fill="#3a3a3a" textLength="82.5" lengthAdjust="spacingAndGlyphs">1. White Orange</text>
<text x="96.3" y="364.43" font-size="11.1" fill="#3a3a3a" textLength="49.5" lengthAdjust="spacingAndGlyphs">2. Orange</text>
<text x="96.3" y="377.56" font-size="11.1" fill="#3a3a3a" textLength="75.8" lengthAdjust="spacingAndGlyphs">3. White Green</text>
<text x="96.3" y="390.69" font-size="11.1" fill="#3a3a3a" textLength="34.3" lengthAdjust="spacingAndGlyphs">4. Blue</text>
<text x="191.4" y="351.3" font-size="11.1" fill="#3a3a3a" textLength="67.3" lengthAdjust="spacingAndGlyphs">5. White Blue</text>
<text x="191.4" y="364.43" font-size="11.1" fill="#3a3a3a" textLength="43.5" lengthAdjust="spacingAndGlyphs">6. Green</text>
<text x="191.4" y="377.56" font-size="11.1" fill="#3a3a3a" textLength="78.1" lengthAdjust="spacingAndGlyphs">7. White Brown</text>
<text x="191.4" y="390.69" font-size="11.1" fill="#3a3a3a" textLength="45.4" lengthAdjust="spacingAndGlyphs">8. Brown</text>
<rect x="431.2" y="335.5" width="186.4" height="61.9" fill="#fff" stroke="#555" stroke-width="0.8"/>
<text x="438.3" y="350.1" font-size="11.1" fill="#3a3a3a" textLength="75.8" lengthAdjust="spacingAndGlyphs">1. White Green</text>
<text x="438.3" y="363.32" font-size="11.1" fill="#3a3a3a" textLength="43.5" lengthAdjust="spacingAndGlyphs">2. Green</text>
<text x="438.3" y="376.54" font-size="11.1" fill="#3a3a3a" textLength="82.5" lengthAdjust="spacingAndGlyphs">3. White Orange</text>
<text x="438.3" y="389.76" font-size="11.1" fill="#3a3a3a" textLength="34.3" lengthAdjust="spacingAndGlyphs">4. Blue</text>
<text x="534" y="350.1" font-size="11.1" fill="#3a3a3a" textLength="67.3" lengthAdjust="spacingAndGlyphs">5. White Blue</text>
<text x="534" y="363.32" font-size="11.1" fill="#3a3a3a" textLength="49.5" lengthAdjust="spacingAndGlyphs">6. Orange</text>
<text x="534" y="376.54" font-size="11.1" fill="#3a3a3a" textLength="78.1" lengthAdjust="spacingAndGlyphs">7. White Brown</text>
<text x="534" y="389.76" font-size="11.1" fill="#3a3a3a" textLength="45.4" lengthAdjust="spacingAndGlyphs">8. Brown</text>
</svg>
</body>
</html>
